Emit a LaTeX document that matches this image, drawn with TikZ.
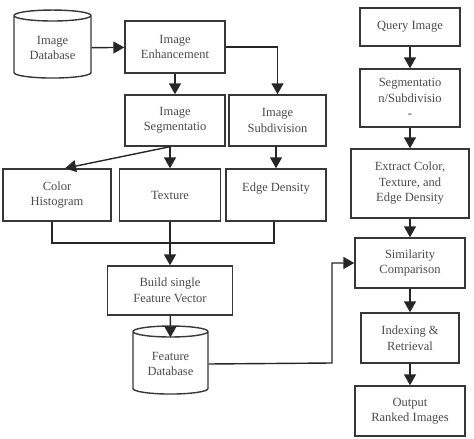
\documentclass[tikz,border=0pt]{standalone}
\usepackage{fontspec}
\setmainfont{Liberation Serif}
\usetikzlibrary{shapes.geometric, arrows.meta, calc}
\definecolor{boxline}{RGB}{55,55,55}
\definecolor{boxtext}{RGB}{75,75,75}

\tikzset{
  procbox/.style={draw=boxline, line width=1.4pt, align=center, text=boxtext,
                  inner sep=2pt, font=\fontsize{12.5}{15.5}\selectfont},
  dbcyl/.style={cylinder, shape border rotate=90, aspect=0.22, draw=boxline,
                line width=1.4pt, align=center, text=boxtext, inner sep=2pt,
                font=\fontsize{12.5}{15.5}\selectfont},
  flow/.style={draw=black!85, line width=1.4pt, -{Triangle[length=11pt,width=12pt]}},
  link/.style={draw=black!85, line width=1.4pt},
}

\begin{document}
\begin{tikzpicture}[x=1pt,y=-1pt]
  \useasboundingbox (0,0) rectangle (474,439);

  % left column: building the feature database
  \node[dbcyl, minimum width=77pt, minimum height=68pt] (imgdb) at (52.5,48) {Image\\Database};
  \node[procbox, minimum width=100pt, minimum height=52pt] (enh) at (175,47) {Image\\Enhancement};
  \node[procbox, minimum width=100pt, minimum height=51pt] (seg) at (175,120.5) {Image\\Segmentatio};
  \node[procbox, minimum width=97pt, minimum height=51pt] (subdiv) at (277.5,120.5) {Image\\Subdivision};
  \node[procbox, minimum width=108pt, minimum height=52pt] (colhist) at (57,195) {Color\\Histogram};
  \node[procbox, minimum width=101pt, minimum height=52pt] (texture) at (170,195) {Texture};
  \node[procbox, minimum width=100pt, minimum height=52pt] (edge) at (276,195) {Edge Density\\\mbox{}};
  \node[procbox, minimum width=125pt, minimum height=49pt] (build) at (170,290.5) {Build single\\Feature Vector};
  \node[dbcyl, minimum width=75pt, minimum height=68pt] (featdb) at (170.5,364) {Feature\\Database};

  % right column: query side
  \node[procbox, minimum width=100pt, minimum height=38pt] (query) at (410,27) {Query Image};
  \node[procbox, minimum width=100pt, minimum height=58pt] (segsub) at (410,98) {Segmentatio\\n/Subdivisio\\-};
  \node[procbox, minimum width=118pt, minimum height=69pt] (extract) at (410,183.5) {Extract Color,\\Texture, and\\Edge Density};
  \node[procbox, minimum width=110pt, minimum height=50pt] (simil) at (410,263) {Similarity\\Comparison};
  \node[procbox, minimum width=98pt, minimum height=50pt] (index) at (410,338) {Indexing \&\\Retrieval};
  \node[procbox, minimum width=110pt, minimum height=50pt] (output) at (410,411) {Output\\Ranked Images};

  \coordinate (merge) at (170,243);
  \coordinate (bend) at (332,363);

  % connectors
  \draw[flow] (imgdb) -- (enh);
  \draw[flow] (enh.east) -| (subdiv.north);
  \draw[flow] (enh) -- (seg);
  \draw[flow] (texture.north |- seg.south) -- ([xshift=8pt]colhist.north);
  \draw[flow] (texture.north |- seg.south) -- (texture.north);
  \draw[flow] (edge.north |- subdiv.south) -- (edge.north);
  \draw[link] ([xshift=-5pt]colhist.south) |- (merge) -| ([xshift=-2pt]edge.south);
  \draw[flow] (texture) -- (build);
  \draw[flow] (build) -- ([yshift=-12pt]featdb.north);
  \draw[flow] (featdb.east) -- (bend) |- (simil.west);

  \draw[flow] (query) -- (segsub);
  \draw[flow] (segsub) -- (extract);
  \draw[flow] (extract) -- (simil);
  \draw[flow] (simil) -- (index);
  \draw[flow] (index) -- (output);
\end{tikzpicture}
\end{document}
